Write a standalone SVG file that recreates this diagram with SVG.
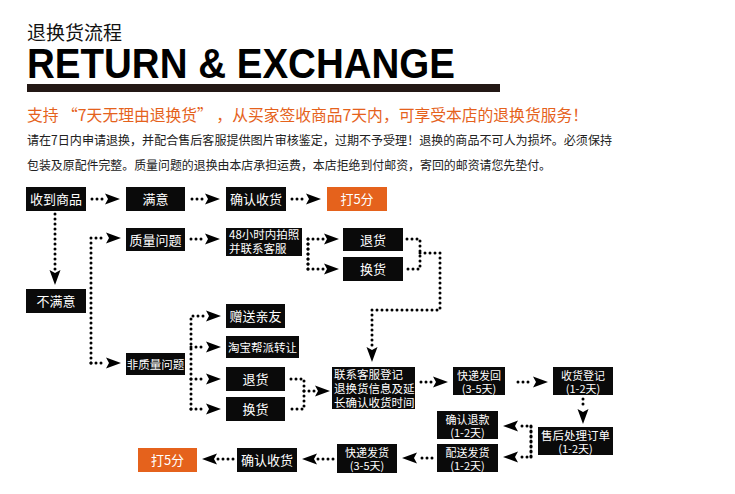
<svg xmlns="http://www.w3.org/2000/svg" width="735" height="494" viewBox="0 0 735 494">
<defs>
<style>
.bx{fill:#0a0a0a}
.or{fill:#e5621c}
.t{font-family:"Noto Sans CJK SC","Microsoft YaHei",sans-serif;fill:#fff;font-size:13px;text-anchor:middle}
.s{font-size:11.5px}
.d{font-size:11px}
.l{text-anchor:start}
.c{fill:none;stroke:#000;stroke-width:3;stroke-linecap:round;stroke-dasharray:0 5;marker-end:url(#ah)}
.n{marker-end:none}
.hd{font-family:"Noto Sans CJK SC",sans-serif}
</style>
<marker id="ah" viewBox="-1 -7 17 14" refX="0" refY="0" markerWidth="17" markerHeight="14" markerUnits="userSpaceOnUse" orient="auto">
<path d="M0,-5.5 L15,0 L0,5.5 L3,0 Z" fill="#000"/>
</marker>
</defs>
<rect width="735" height="494" fill="#fff"/>

<g id="header">
<text x="27" y="40" class="hd" font-size="19" fill="#111">退换货流程</text>
<text x="27" y="78" font-family="Liberation Sans,Arial,sans-serif" font-weight="bold" font-size="42" fill="#000" textLength="428" lengthAdjust="spacingAndGlyphs">RETURN &amp; EXCHANGE</text>
<rect x="27" y="84" width="473" height="8" fill="#231815"/>
<text x="27" y="121" class="hd" font-size="16" fill="#e5621c" textLength="561" lengthAdjust="spacingAndGlyphs">支持 “7天无理由退换货” ，从买家签收商品7天内，可享受本店的退换货服务！</text>
<text x="27" y="145" class="hd" font-size="12.5" fill="#222" textLength="585" lengthAdjust="spacingAndGlyphs">请在7日内申请退换，并配合售后客服提供图片审核鉴定，过期不予受理！退换的商品不可人为损坏。必须保持</text>
<text x="27" y="170" class="hd" font-size="12.5" fill="#222" textLength="524" lengthAdjust="spacingAndGlyphs">包装及原配件完整。质量问题的退换由本店承担运费，本店拒绝到付邮资，寄回的邮资请您先垫付。</text>
</g>

<g id="connectors">
<path class="c" d="M92,199 H105"/>
<path class="c" d="M192,199 H205"/>
<path class="c" d="M292,199 H306"/>
<path class="c" d="M55,214 V270"/>
<path class="c" d="M91,363 V238 H106"/>
<path class="c" d="M91,363 H106"/>
<path class="c" d="M191,239 H205"/>
<path class="c" d="M308,269 V239 H324"/>
<path class="c" d="M308,239 V269 H324"/>
<path class="c n" d="M407,239 H420 V269 H407"/>
<path class="c" d="M420,253 H440 V310 H372 V347"/>
<path class="c" d="M191,409 V316 H206"/>
<path class="c" d="M191,347 H206"/>
<path class="c" d="M191,379 H206"/>
<path class="c" d="M191,409 H206"/>
<path class="c n" d="M291,379 H304 V409 H291"/>
<path class="c" d="M304,391 H315"/>
<path class="c" d="M421,382 H433"/>
<path class="c" d="M518,382 H533"/>
<path class="c" d="M583,399 V409"/>
<path class="c" d="M531,457 V426 H518"/>
<path class="c" d="M531,426 V457 H518"/>
<path class="c" d="M432,458 H417"/>
<path class="c" d="M333,459 H317"/>
<path class="c" d="M233,459 H217"/>
</g>

<g id="n-received"><rect class="bx" x="26" y="187" width="60" height="24"/><text class="t" x="56" y="204">收到商品</text></g>
<g id="n-satisfied"><rect class="bx" x="126" y="187" width="59" height="24"/><text class="t" x="155.5" y="204">满意</text></g>
<g id="n-confirm1"><rect class="bx" x="226" y="187" width="60" height="24"/><text class="t" x="256" y="204">确认收货</text></g>
<g id="n-score1"><rect class="or" x="327" y="187" width="60" height="24"/><text class="t" x="357" y="204">打5分</text></g>
<g id="n-unsatisfied"><rect class="bx" x="26" y="289" width="60" height="24"/><text class="t" x="56" y="306">不满意</text></g>
<g id="n-quality"><rect class="bx" x="126" y="228" width="59" height="23"/><text class="t" x="155.5" y="244.5">质量问题</text></g>
<g id="n-photo"><rect class="bx" x="226" y="228" width="76" height="28"/><text class="t s l" x="229" y="238.5">48小时内拍照</text><text class="t s l" x="229" y="252.5">并联系客服</text></g>
<g id="n-return1"><rect class="bx" x="343" y="228" width="60" height="23"/><text class="t" x="373" y="244.5">退货</text></g>
<g id="n-exchange1"><rect class="bx" x="343" y="257" width="60" height="24"/><text class="t" x="373" y="274">换货</text></g>
<g id="n-nonquality"><rect class="bx" x="126" y="353" width="59" height="22"/><text class="t s" x="155.5" y="368.5">非质量问题</text></g>
<g id="n-gift"><rect class="bx" x="226" y="304" width="59" height="24"/><text class="t" x="255.5" y="321">赠送亲友</text></g>
<g id="n-transfer"><rect class="bx" x="226" y="336" width="73" height="22"/><text class="t s" x="262.5" y="351.5">淘宝帮派转让</text></g>
<g id="n-return2"><rect class="bx" x="226" y="367" width="59" height="24"/><text class="t" x="255.5" y="384">退货</text></g>
<g id="n-exchange2"><rect class="bx" x="226" y="397" width="59" height="24"/><text class="t" x="255.5" y="414">换货</text></g>
<g id="n-register"><rect class="bx" x="332" y="367" width="83" height="42"/><text class="t s l" x="334" y="378.5">联系客服登记</text><text class="t s l" x="334" y="392.5">退换货信息及延</text><text class="t s l" x="334" y="406.5">长确认收货时间</text></g>
<g id="n-sendback"><rect class="bx" x="453" y="367" width="52" height="28"/><text class="t d" x="479" y="379.5">快递发回</text><text class="t d" x="479" y="393">(3-5天)</text></g>
<g id="n-receivereg"><rect class="bx" x="553" y="367" width="60" height="28"/><text class="t d" x="583" y="379.5">收货登记</text><text class="t d" x="583" y="393">(1-2天)</text></g>
<g id="n-process"><rect class="bx" x="538" y="427" width="75" height="28"/><text class="t s" x="575.5" y="439.5">售后处理订单</text><text class="t d" x="575.5" y="453">(1-2天)</text></g>
<g id="n-refund"><rect class="bx" x="437" y="411" width="61" height="28"/><text class="t d" x="467.5" y="423.5">确认退款</text><text class="t d" x="467.5" y="437">(1-2天)</text></g>
<g id="n-deliver"><rect class="bx" x="437" y="444" width="61" height="28"/><text class="t d" x="467.5" y="456.5">配送发货</text><text class="t d" x="467.5" y="470">(1-2天)</text></g>
<g id="n-ship"><rect class="bx" x="337" y="444" width="60" height="29"/><text class="t d" x="367" y="456.5">快递发货</text><text class="t d" x="367" y="470">(3-5天)</text></g>
<g id="n-confirm2"><rect class="bx" x="237" y="448" width="60" height="24"/><text class="t" x="267" y="465">确认收货</text></g>
<g id="n-score2"><rect class="or" x="138" y="448" width="59" height="24"/><text class="t" x="167.5" y="465">打5分</text></g>
</svg>
